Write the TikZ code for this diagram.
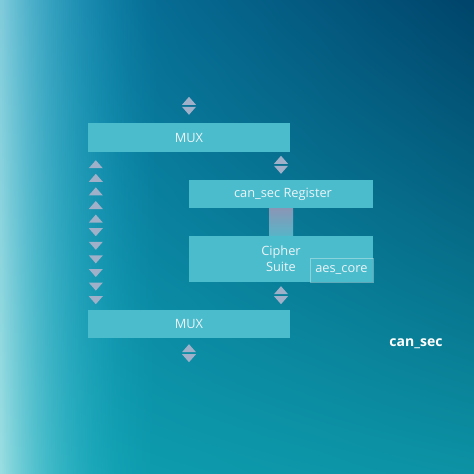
\documentclass[tikz,border=0pt]{standalone}
\usepackage{fontspec}
\setmainfont{Open Sans}
\usetikzlibrary{calc,shadings}

\definecolor{boxc}{RGB}{75,188,204}
\definecolor{tric}{RGB}{160,176,200}
\definecolor{txtc}{RGB}{236,244,248}
\definecolor{barc}{RGB}{138,150,182}
\definecolor{bgul}{RGB}{10,128,168}
\definecolor{bgur}{RGB}{0,68,106}
\definecolor{bgll}{RGB}{14,160,178}
\definecolor{bglr}{RGB}{12,146,164}
\definecolor{lighttop}{RGB}{135,208,222}
\definecolor{lightbot}{RGB}{160,225,228}
\definecolor{cyantop}{RGB}{35,165,200}
\definecolor{cyanbot}{RGB}{30,180,200}

\begin{document}
\begin{tikzpicture}[x=1pt,y=-1pt]

\tikzset{
  BoxStyle/.style = { rectangle, fill = boxc, inner sep = 0pt,
                      text = txtc, font = \fontsize{12.8}{16}\selectfont },
  TriStyle/.style = { fill = tric },
  uptri/.pic = { \fill[TriStyle] (-7,4) -- (0,-4) -- (7,4) -- cycle; },
  dntri/.pic = { \fill[TriStyle] (-7,-4) -- (0,4) -- (7,-4) -- cycle; },
  updown/.pic = { \pic at (0,-5) {uptri}; \pic at (0,5) {dntri}; } }

  \useasboundingbox (0,0) rectangle (474,474);

  % background
  \shade[upper left=bgul, upper right=bgur, lower left=bgll, lower right=bglr]
        (0,0) rectangle (474,474);
  \foreach \i [evaluate=\i as \op using {0.95*(1-\i/80)^1.2},
               evaluate=\i as \mx using {100*(1-\i/80)^2}] in {0,...,79}
    \shade[top color=lighttop!\mx!cyantop, bottom color=lightbot!\mx!cyanbot, opacity=\op]
          (2*\i,0) rectangle (2*\i+2,474);

  \node[BoxStyle, minimum width=202pt, minimum height=29pt] (mux1) at (189,137.5) {MUX};
  \node[BoxStyle, minimum width=184pt, minimum height=28pt] (reg) at (281,194) {\hspace{4pt}can\_sec Register};
  \node[BoxStyle, minimum width=184pt, minimum height=46pt, align=center] (cs) at (281,259) {Cipher\\Suite};
  \node[BoxStyle, draw=white, draw opacity=0.35, line width=0.6pt, minimum width=63pt,
        minimum height=24pt, anchor=south east] (aes) at (cs.south east) {aes\_core};
  \node[BoxStyle, minimum width=202pt, minimum height=28pt] (mux2) at (189,324) {MUX};

  \shade[top color=barc, bottom color=boxc!80!barc]
        ($(reg.south)+(-12,0)$) rectangle ($(cs.north)+(12,0)$);

  \pic at ($(mux1.north)+(0,-17)$) {updown};
  \pic at ($(reg.north)+(0,-15)$) {updown};
  \pic at ($(cs.south)+(0,13)$) {updown};
  \pic at ($(mux2.south)+(0,15)$) {updown};

  \foreach \i in {0,...,4}
    \pic at ($(mux1.south west)+(8,12+13.6*\i)$) {uptri};
  \foreach \i in {5,...,10}
    \pic at ($(mux1.south west)+(8,12+13.6*\i)$) {dntri};

  \node[text=white, font=\fontsize{14}{16}\selectfont\bfseries] (lbl) at (416,344) {can\_sec};

\end{tikzpicture}
\end{document}
